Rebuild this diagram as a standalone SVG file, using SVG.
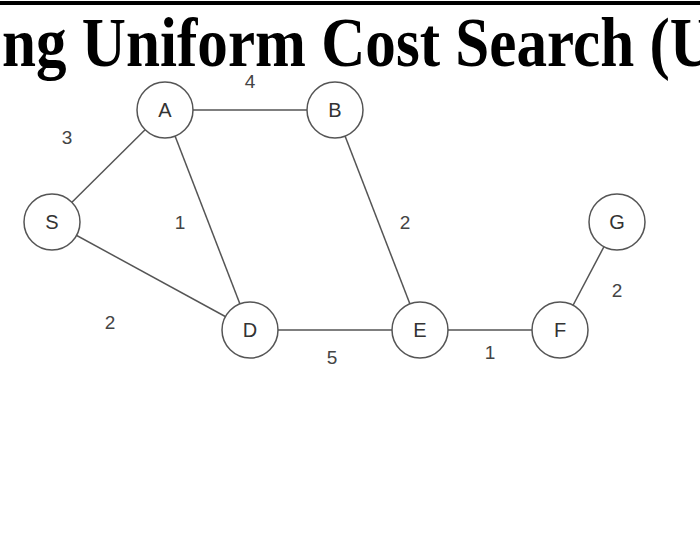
<svg xmlns="http://www.w3.org/2000/svg" width="700" height="554" viewBox="0 0 700 554">
<style>
.n circle{fill:#fff;stroke:#555;stroke-width:1.5}
.n text{font-family:"Liberation Sans",Arial,sans-serif;font-size:20px;fill:#333;text-anchor:middle}
.e line{stroke:#555;stroke-width:1.5}
.w{font-family:"Liberation Sans",Arial,sans-serif;font-size:19px;fill:#444;text-anchor:middle}
</style>
<rect width="700" height="554" fill="#fff"/>
<rect x="0" y="1" width="700" height="4" fill="#000"/>
<text x="2" y="66" font-family="Liberation Serif,Times New Roman,serif" font-weight="bold" font-size="70" textLength="712" lengthAdjust="spacingAndGlyphs">ng Uniform Cost Search (U</text>
<g class="e">
<line x1="165" y1="110" x2="335" y2="110"/>
<line x1="165" y1="110" x2="52" y2="222"/>
<line x1="165" y1="110" x2="250" y2="330"/>
<line x1="52" y1="222" x2="250" y2="330"/>
<line x1="335" y1="110" x2="420" y2="330"/>
<line x1="250" y1="330" x2="420" y2="330"/>
<line x1="420" y1="330" x2="560" y2="330"/>
<line x1="560" y1="330" x2="617" y2="222"/>
</g>
<text class="w" x="250" y="88">4</text>
<text class="w" x="67" y="144">3</text>
<text class="w" x="180" y="229">1</text>
<text class="w" x="405" y="229">2</text>
<text class="w" x="110" y="329">2</text>
<text class="w" x="332" y="364">5</text>
<text class="w" x="490" y="359">1</text>
<text class="w" x="617" y="297">2</text>
<g id="A" class="n"><circle cx="165" cy="110" r="28"/><text x="165" y="117">A</text></g>
<g id="B" class="n"><circle cx="335" cy="110" r="28"/><text x="335" y="117">B</text></g>
<g id="S" class="n"><circle cx="52" cy="222" r="28"/><text x="52" y="229">S</text></g>
<g id="D" class="n"><circle cx="250" cy="330" r="28"/><text x="250" y="337">D</text></g>
<g id="E" class="n"><circle cx="420" cy="330" r="28"/><text x="420" y="337">E</text></g>
<g id="F" class="n"><circle cx="560" cy="330" r="28"/><text x="560" y="337">F</text></g>
<g id="G" class="n"><circle cx="617" cy="222" r="28"/><text x="617" y="229">G</text></g>
</svg>
